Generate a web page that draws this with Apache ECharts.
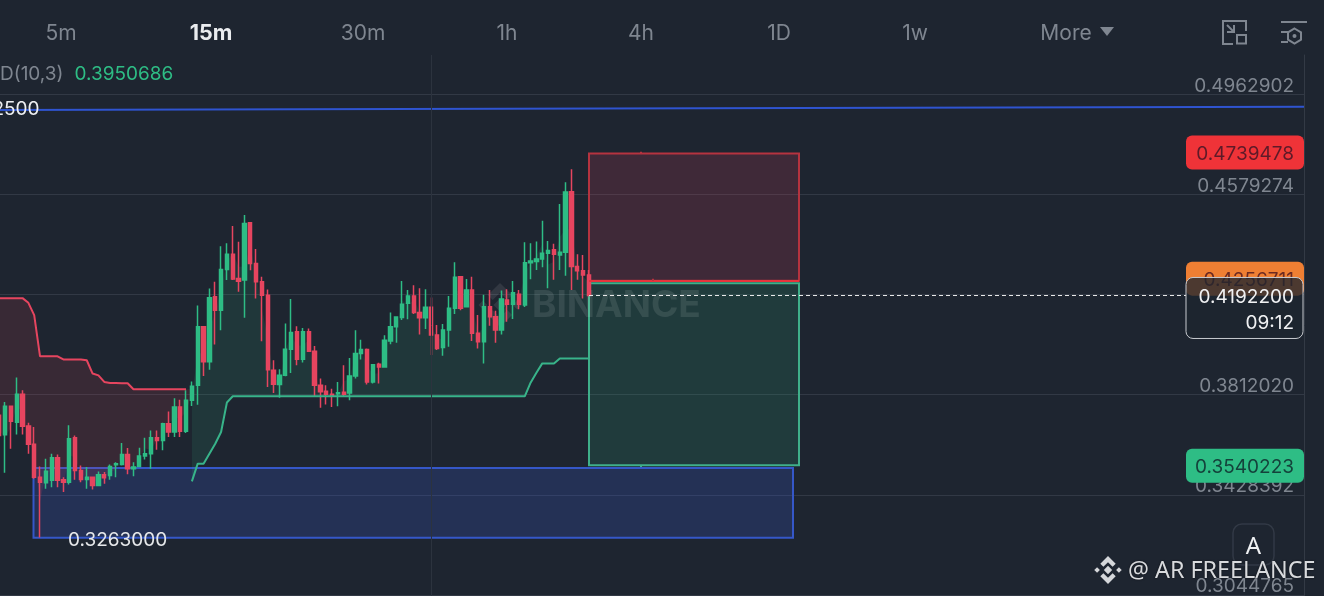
<!DOCTYPE html>
<html><head><meta charset="utf-8">
<style>html,body{margin:0;padding:0;background:#1e2530;overflow:hidden}#c{width:1324px;height:596px}</style>
<script src="https://cdn.jsdelivr.net/npm/echarts@6/dist/echarts.min.js"></script>
</head><body><div id="c"></div>
<script>
const tabLabels=[['5m',61],['15m',211],['30m',363],['1h',507],['4h',641],['1D',779],['1w',915],['More',1066]];
const tickValues=[0.4962902,0.4579274,0.4195646,0.3812020,0.3428392,0.3044765];
const opens=[.3733,.3659,.3768,.3707,.3814,.3692,.3622,.3496,.3475,.3484,.3571,.3486,.3477,.3647,.3522,.3487,.3496,.3464,.3505,.3503,.3544,.3545,.3583,.3528,.3537,.3577,.3586,.3647,.3637,.3701,.3669,.3765,.3672,
.3791,.3848,.4072,.3938,.4187,.4136,.4292,.4350,.4257,.4251,.4471,.4315,.4245,.4193,.3906,.3851,.3887,.3986,.4053,.3948,.4053,.3979,.3848,.3825,.3814,.3816,.3821,.3819,.3884,.3970,.3985,.3861,.3929,.3918,.4018,.4072,
.4108,.4162,.4190,.4127,.4107,.4147,.4041,.3993,.4060,.4143,.4264,.4149,.4213,.4047,.4015,.4149,.4111,.4060,.4175,.4159,.4197,.4156,.4318,.4322,.4332,.4354,.4367,.4347,.4358,.4590,.4303,.4287,.4271];
const closes=[.3656,.3768,.3710,.3814,.3691,.3622,.3496,.3477,.3519,.3571,.3484,.3477,.3643,.3522,.3487,.3496,.3464,.3505,.3494,.3537,.3548,.3583,.3528,.3535,.3577,.3586,.3647,.3637,.3701,.3669,.3765,.3672,.3791,
.3844,.4072,.3938,.4183,.4136,.4292,.4350,.4255,.4247,.4468,.4315,.4245,.4193,.3908,.3852,.3887,.3986,.4050,.3948,.4053,.3979,.3848,.3823,.3814,.3808,.3820,.3814,.3884,.3970,.3985,.3861,.3927,.3918,.4021,.4072,.4110,
.4159,.4190,.4127,.4107,.4147,.4041,.3989,.4060,.4143,.4262,.4143,.4213,.4047,.4015,.4149,.4111,.4060,.4179,.4159,.4203,.4159,.4318,.4324,.4332,.4354,.4364,.4350,.4358,.4589,.4303,.4287,.4271,.4192];
const lows=[.3618,.3513,.3605,.3660,.3660,.3586,.3490,.3265,.3452,.3458,.3458,.3439,.3468,.3486,.3477,.3452,.3449,.3461,.3471,.3486,.3496,.3541,.3507,.3500,.3535,.3564,.3528,.3601,.3599,.3650,.3650,.3650,.3665,
.3769,.3774,.3884,.3908,.4004,.4059,.4251,.4251,.4206,.4107,.4289,.4181,.4017,.3842,.3819,.3800,.3883,.3895,.3925,.3935,.3976,.3803,.3762,.3775,.3765,.3768,.3803,.3791,.3874,.3947,.3851,.3855,.3855,.3916,.4005,.4011,
.4098,.4101,.4121,.4043,.4064,.3964,.3983,.3961,.3996,.4121,.4136,.4149,.4018,.3989,.3932,.4076,.4011,.4043,.4092,.4102,.4139,.4148,.4254,.4290,.4300,.4220,.4252,.4290,.4268,.4213,.4252,.4181,.4192];
const highs=[.3733,.3784,.3768,.3878,.3829,.3705,.3688,.3537,.3567,.3586,.3583,.3496,.3695,.3656,.3541,.3535,.3496,.3518,.3516,.3545,.3553,.3627,.3608,.3553,.3609,.3647,.3675,.3675,.3705,.3748,.3798,.3793,.3829,
.3863,.4154,.4074,.4219,.4245,.4381,.4392,.4458,.4398,.4500,.4471,.4370,.4264,.4215,.3944,.3910,.4085,.4179,.4074,.4068,.4066,.3999,.3874,.3848,.3835,.3861,.3925,.3953,.4059,.4023,.3989,.3929,.3934,.4040,.4127,.4113,
.4248,.4213,.4231,.4220,.4216,.4184,.4079,.4083,.4190,.4319,.4264,.4255,.4264,.4117,.4195,.4213,.4134,.4211,.4216,.4248,.4213,.4396,.4392,.4399,.4478,.4401,.4390,.4543,.4626,.4676,.4350,.4347,.4290];
const trendUpper=[.4182,.4182,.4182,.4182,.4182,.4164,.4117,.3959,.3959,.3959,.3959,.3947,.3947,.3947,.3947,.3944,.3893,.3886,.3861,.3857,.3857,.3856,.3856,.3833,.3833,.3833,.3833,.3833,.3833,.3833,.3833,.3833,.3833];
const trendLower=[.3480,.3548,.3548,.3586,.3624,.3669,.3782,
.3806,.3806,.3806,.3806,.3806,.3806,.3806,.3806,.3806,.3806,
.3806,.3806,.3806,.3806,.3806,.3806,.3806,.3806,.3806,.3806,
.3806,.3806,.3806,.3806,.3806,.3806,.3806,.3806,.3806,.3806,
.3806,.3806,.3806,.3806,.3806,.3806,.3806,.3806,.3806,.3806,
.3806,.3806,.3806,.3806,.3806,.3806,.3806,.3806,.3806,.3806,
.3806,.3858,.3896,.3932,.3932,.3932,.3951,.3951,.3951,.3951,.3951,.3951];
const lowerStart=33;
const stopPrice=0.4739478, targetPrice=0.3540223, lastPrice=0.4192200, orangePrice=0.4256711;
const boxTop=0.4736, entryRed=0.4249, entryGreen=0.4239, boxBottom=0.3542;
const zoneTop=0.3531, zoneBottom=0.3264;

const bg='#1e2530', grey='#7f8690', up='#2ebd85', down='#e6455f';
const FF='Inter, "Noto Sans", sans-serif';
const FS=19;
const xAt=p=>(p+0.84)/5.84;
const hl2=i=>(highs[i]+lows[i])/2;

const chart=echarts.init(document.getElementById('c'),null,{renderer:'canvas'});
const candleData=opens.map((o,i)=>[i,o,closes[i],lows[i],highs[i]]);
const upperLine=trendUpper.map((v,i)=>[i,v]);
const lowerLine=trendLower.map((v,i)=>[i+lowerStart,v]);
const redBand=[...trendUpper.keys(),33].map(i=>[i,hl2(i),trendUpper[i]??trendUpper[32]]);
const greenBand=lowerLine.map(([i,v])=>[i,v,Math.max(v,hl2(i))]);
const bandSeries=(band,fill)=>({type:'custom',z:1,silent:true,data:band,encode:{x:0,y:[1,2]},clip:true,
  renderItem(params,api){
    if(params.dataIndex!==0) return null;
    const pts=[...band.map(b=>api.coord([b[0],b[2]])),...band.slice().reverse().map(b=>api.coord([b[0],b[1]]))];
    return {type:'polygon',shape:{points:pts},style:{fill}};
  }});
const stub=(px,a,b,c)=>[{coord:[xAt(px),a],lineStyle:{color:c,width:2,type:'solid'}},{coord:[xAt(px),b]}];

chart.setOption({
  animation:false,backgroundColor:bg,
  grid:{left:0,top:55,width:1304,height:541,containLabel:false},
  xAxis:{type:'value',min:xAt(0),max:xAt(1304),show:false},
  yAxis:{type:'value',position:'right',min:0.304160,max:0.511340,scale:true,
    axisLine:{show:true,lineStyle:{color:'#333a45',width:1}},
    axisTick:{show:false,customValues:tickValues},
    splitLine:{show:true,lineStyle:{color:'#323945',width:1}},
    axisLabel:{inside:true,margin:10,customValues:tickValues,color:grey,fontFamily:FF,fontSize:FS,
      verticalAlign:'bottom',lineHeight:17,formatter:v=>v.toFixed(7)}},
  series:[
    bandSeries(redBand,'rgba(230,69,95,0.13)'),
    bandSeries(greenBand,'rgba(46,189,133,0.12)'),
    {type:'candlestick',data:candleData,z:3,barWidth:3.8,itemStyle:{color:up,color0:down,borderColor:up,borderColor0:down,borderWidth:1.5}},
    {type:'line',data:upperLine,z:4,symbol:'none',lineStyle:{color:'#e6455f',width:2}},
    {type:'line',data:lowerLine,z:4,symbol:'none',lineStyle:{color:'#38b48a',width:2}},
    {type:'line',data:[],z:5,
      markArea:{silent:true,data:[
        [{coord:[xAt(589),boxTop],itemStyle:{color:'rgba(230,69,95,0.165)',borderColor:'#b5333f',borderWidth:2}},{coord:[xAt(799),entryRed]}],
        [{coord:[xAt(589),entryGreen],itemStyle:{color:'rgba(46,189,133,0.15)',borderColor:'#3fb08a',borderWidth:2}},{coord:[xAt(799),boxBottom]}],
        [{coord:[xAt(33.5),zoneTop],itemStyle:{color:'rgba(58,90,210,0.23)',borderColor:'#3557c8',borderWidth:2}},{coord:[xAt(793),zoneBottom]}]
      ]},
      markLine:{silent:true,symbol:'none',label:{show:false},data:[
        [{coord:[xAt(0),0.49028],lineStyle:{color:'#2f54d0',width:2,type:'solid'}},{coord:[xAt(1304),0.49154]}],
        [{coord:[xAt(589),lastPrice],lineStyle:{color:'#e8e8e8',width:1,type:[4,3]}},{coord:[xAt(1186),lastPrice]}],
        [{coord:[xAt(589),entryRed],lineStyle:{color:'#e8333c',width:2,type:'solid'}},{coord:[xAt(799),entryRed]}],
        stub(641,0.4736,0.4743,'#b5333f'),stub(653,0.4249,0.4256,'#b5333f'),stub(641,0.3542,0.3535,'#3fb08a')
      ]}},
    {type:'line',data:[],z:0,
      markLine:{silent:true,symbol:'none',label:{show:false},data:[
        [{coord:[xAt(431),0.304160],lineStyle:{color:'#2c333e',width:1,type:'solid'}},{coord:[xAt(431),0.511340]}]
      ]}}
  ]
});

const py=v=>chart.convertToPixel({yAxisIndex:0},v);
function logo(cx,cy,r,fill,z){
  const pts=[[[0,-.3],[.3,0],[0,.3],[-.3,0]],[[-.78,-.2],[-.58,0],[-.78,.2],[-.98,0]],[[.78,-.2],[.98,0],[.78,.2],[.58,0]],
    [[0,-1],[.55,-.45],[.33,-.23],[0,-.56],[-.33,-.23],[-.55,-.45]],[[0,1],[.55,.45],[.33,.23],[0,.56],[-.33,.23],[-.55,.45]]];
  return pts.map(p=>({type:'polygon',z,silent:true,shape:{points:p.map(q=>[cx+q[0]*r,cy+q[1]*r])},style:{fill}}));
}
const txt=(x,y,text,fill,size,o={})=>({type:'text',x,y,z:o.z||20,silent:true,style:{text,fill,font:(o.w||'400')+' '+size+'px '+(o.ff||FF),textAlign:o.a||'left',textVerticalAlign:'middle',...(o.s||{})}});
const badge=(v,fill,tc)=>{const y=py(v);return [
  {type:'rect',z:20,silent:true,shape:{x:1186,y:y-17,width:118,height:34,r:6},style:{fill}},
  txt(1294,y+1.5,v.toFixed(7),tc,FS,{a:'right',z:21})];};
const yo=py(orangePrice), yl=py(lastPrice);
const pl=(points)=>({type:'polyline',z:20,silent:true,shape:{points},style:{fill:'none',stroke:grey,lineWidth:2}});
const cx=1294.5,cy=36;
const hex=[[0,-7.5],[6.5,-3.7],[6.5,3.7],[0,7.5],[-6.5,3.7],[-6.5,-3.7]].map(p=>[cx+p[0],cy+p[1]]);
chart.setOption({graphic:{elements:[
  ...tabLabels.map(([t,x])=>txt(x,33.5,t,t==='15m'?'#eaecef':grey,t==='15m'?21.5:21,{a:'center',w:t==='15m'?'700':'400'})),
  {type:'polygon',z:20,silent:true,shape:{points:[[1100,27],[1114,27],[1107,36]]},style:{fill:grey}},
  pl([[1246,31],[1246,21],[1223,21],[1223,44],[1233,44]]),
  {type:'rect',z:20,silent:true,shape:{x:1237,y:35,width:9,height:8.5},style:{fill:'none',stroke:grey,lineWidth:2}},
  pl([[1227,25],[1234,32]]),pl([[1227,32],[1234,32],[1234,25]]),
  pl([[1281,22],[1307,22]]),pl([[1281,32],[1288,32]]),pl([[1281,42],[1288,42]]),
  {type:'polygon',z:20,silent:true,shape:{points:hex},style:{fill:'none',stroke:grey,lineWidth:2}},
  {type:'circle',z:20,silent:true,shape:{cx,cy,r:2},style:{fill:grey}},
  txt(0,74,'D(10,3)',grey,FS),
  txt(74.5,74,'0.3950686',up,FS),
  txt(39.5,109,'2500','#eef0f2',FS,{a:'right',z:21}),
  txt(68,540.5,'0.3263000','#e6e8ea',FS,{z:21}),
  ...logo(500,305,22,'rgba(255,255,255,0.09)',2),
  txt(532,306,'BINANCE','rgba(255,255,255,0.10)',37,{w:'700',z:2,s:{letterSpacing:1.5}}),
  ...badge(stopPrice,'#ef3338','#5e1a28'),
  {type:'rect',z:20,silent:true,shape:{x:1186,y:yo-17,width:118,height:34,r:6},style:{fill:'#ef7f33'}},
  txt(1294,yo+2,orangePrice.toFixed(7),'#6b2a22',FS,{a:'right',z:21}),
  {type:'rect',z:22,silent:true,shape:{x:1186,y:yl-18,width:117,height:61,r:7},style:{fill:'rgba(30,37,48,0.78)',stroke:'#c8cbd0',lineWidth:1}},
  txt(1294,yl+2,lastPrice.toFixed(7),'#f0f1f3',FS,{a:'right',z:23}),
  txt(1294,yl+28,'09:12','#f0f1f3',FS,{a:'right',z:23}),
  ...badge(targetPrice,'#2ebd85','#14423b'),
  {type:'rect',z:20,silent:true,shape:{x:1233,y:524,width:41,height:41,r:9},style:{fill:'none',stroke:'#323945',lineWidth:1.5}},
  txt(1253.5,547,'A','#eef0f2',24,{a:'center',ff:'"Noto Sans"'}),
  ...logo(1108,570,14,'#d5d7da',24),
  txt(1128,571,'@ AR FREELANCE','#d8dadd',23.3,{ff:'"Noto Sans"',z:24,s:{textShadowColor:'rgba(0,0,0,0.6)',textShadowBlur:2}})
]}});
</script></body></html>
